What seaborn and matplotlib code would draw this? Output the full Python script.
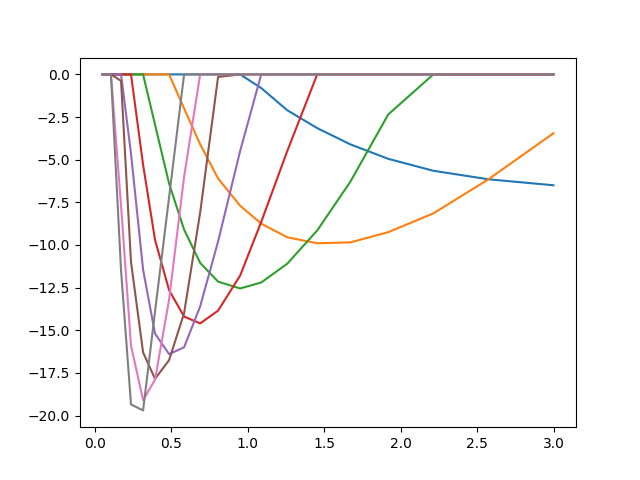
import matplotlib
matplotlib.use("Agg")
import matplotlib.pyplot as plt
import pandas as pd
import seaborn as sns

# shared x grid
x = [0.05, 0.105, 0.171, 0.236, 0.315, 0.393, 0.485, 0.583, 0.688, 0.805,
     0.949, 1.087, 1.257, 1.453, 1.669, 1.917, 2.212, 2.572, 2.997]

s1 = [0, 0, 0, 0, 0, 0, 0, 0, 0, 0, 0, -0.8, -2.1, -3.15, -4.1, -4.95, -5.65, -6.15, -6.5]
s2 = [0, 0, 0, 0, 0, 0, 0, -2.0, -4.1, -6.1, -7.7, -8.75, -9.55, -9.9, -9.85, -9.25, -8.15, -6.15, -3.45]
s3 = [0, 0, 0, 0, 0, -2.95, -6.4, -9.1, -11.05, -12.15, -12.55, -12.2, -11.1, -9.15, -6.3, -2.35, 0, 0, 0]
s4 = [0, 0, 0, 0, -5.3, -9.7, -12.65, -14.2, -14.6, -13.85, -11.8, -8.65, -4.5, 0, 0, 0, 0, 0, 0]
s5 = [0, 0, 0, -4.65, -11.45, -15.2, -16.4, -16.0, -13.6, -9.8, -4.5, 0, 0, 0, 0, 0, 0, 0, 0]
s6 = [0, 0, -0.38, -11.0, -16.3, -17.85, -16.75, -14.0, -8.1, -0.15, 0, 0, 0, 0, 0, 0, 0, 0, 0]
s7 = [0, 0, -7.7, -15.9, -19.1, -17.9, -13.2, -6.0, 0, 0, 0, 0, 0, 0, 0, 0, 0, 0, 0]
s8 = [0, 0, -11.5, -19.35, -19.7, -13.9, -7.2, 0, 0, 0, 0, 0, 0, 0, 0, 0, 0, 0, 0]

series = [s1, s2, s3, s4, s5, s6, s7, s8]
names = ["s1", "s2", "s3", "s4", "s5", "s6", "s7", "s8"]

rows = []
for name, ys in zip(names, series):
    for xv, yv in zip(x, ys):
        rows.append({"x": xv, "y": yv, "series": name})
df = pd.DataFrame(rows)

fig, ax = plt.subplots(figsize=(6.4, 4.8), dpi=100)
sns.lineplot(data=df, x="x", y="y", hue="series", hue_order=names,
             palette=sns.color_palette("tab10", 8), legend=False,
             estimator=None, sort=False, ax=ax, linewidth=1.5)
ax.set_xlabel("")
ax.set_ylabel("")

fig.savefig("out.png", dpi=100)
